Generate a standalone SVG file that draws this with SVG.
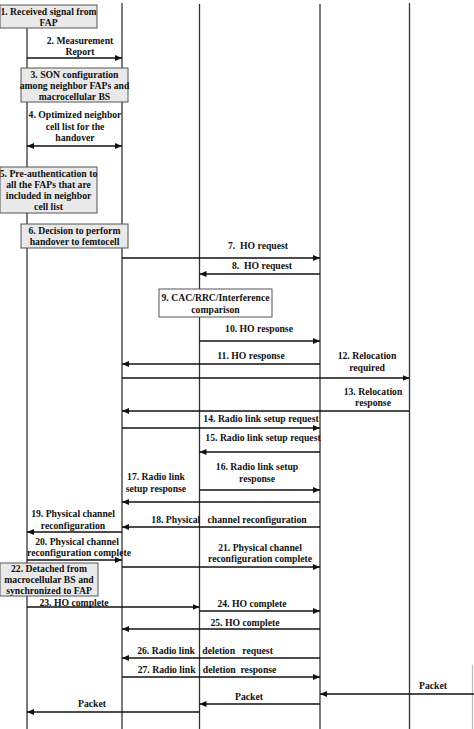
<svg xmlns="http://www.w3.org/2000/svg" width="474" height="729" viewBox="0 0 474 729">
<style>
.ll{stroke:#333;stroke-width:1.3;fill:none}
.m{stroke:#111;stroke-width:1.3;fill:none;marker-end:url(#ah)}
.d{marker-start:url(#ah)}
.box{fill:#e9e9e9;stroke:#555;stroke-width:1}
.wbox{fill:#fff;stroke:#555;stroke-width:1}
text{font-family:"Liberation Serif","Times New Roman",serif;font-weight:bold;font-size:9.7px;fill:#111;text-anchor:middle}
</style>
<defs>
<marker id="ah" markerUnits="userSpaceOnUse" markerWidth="7" markerHeight="6" refX="7" refY="3" orient="auto-start-reverse">
<path d="M0,0 L7,3 L0,6 z" fill="#111"/>
</marker>
</defs>
<rect width="474" height="729" fill="#fff"/>
<g id="lifelines">
<line class="ll" x1="27" y1="28" x2="27" y2="729"/>
<line class="ll" x1="122" y1="3" x2="122" y2="729"/>
<line class="ll" x1="199.5" y1="4" x2="199.5" y2="729"/>
<line class="ll" x1="320" y1="4" x2="320" y2="729"/>
<line class="ll" x1="409.5" y1="3" x2="409.5" y2="729"/>
<line x1="472.5" y1="665" x2="472.5" y2="729" stroke="#bbb" stroke-width="1.2"/>
</g>
<g id="connectors">
<line class="m" x1="27" y1="58" x2="122" y2="58"/>
<line class="m d" x1="27" y1="146" x2="122" y2="146"/>
<line class="m" x1="122" y1="258" x2="320" y2="258"/>
<line class="m" x1="320" y1="274" x2="199.5" y2="274"/>
<line class="m" x1="199.5" y1="341" x2="320" y2="341"/>
<line class="m" x1="320" y1="364" x2="122" y2="364"/>
<line class="m" x1="122" y1="378" x2="409.5" y2="378"/>
<line class="m" x1="409.5" y1="411" x2="122" y2="411"/>
<line class="m" x1="122" y1="428" x2="320" y2="428"/>
<line class="m" x1="320" y1="452" x2="199.5" y2="452"/>
<line class="m" x1="199.5" y1="490" x2="320" y2="490"/>
<line class="m" x1="320" y1="502" x2="122" y2="502"/>
<line class="m" x1="320" y1="527" x2="122" y2="527"/>
<line class="m" x1="122" y1="532" x2="27" y2="532"/>
<line class="m" x1="27" y1="560" x2="122" y2="560"/>
<line class="m" x1="122" y1="567" x2="320" y2="567"/>
<line class="m" x1="27" y1="607" x2="199.5" y2="607"/>
<line class="m" x1="199.5" y1="611" x2="320" y2="611"/>
<line class="m" x1="320" y1="629" x2="122" y2="629"/>
<line class="m" x1="320" y1="658" x2="122" y2="658"/>
<line class="m" x1="122" y1="677" x2="320" y2="677"/>
<line class="m" x1="474" y1="694" x2="320" y2="694"/>
<line class="m" x1="320" y1="704" x2="199.5" y2="704"/>
<line class="m" x1="199.5" y1="712" x2="27" y2="712"/>
</g>
<g id="labels">
<text x="80" y="44">2. Measurement</text>
<text x="80" y="55">Report</text>
<text x="75" y="118">4. Optimized neighbor</text>
<text x="75" y="130">cell list for the</text>
<text x="75" y="141">handover</text>
<text x="258" y="249" xml:space="preserve">7.  HO request</text>
<text x="262" y="269" xml:space="preserve">8.  HO request</text>
<text x="259" y="332">10. HO response</text>
<text x="251" y="359">11. HO response</text>
<text x="367" y="359">12. Relocation</text>
<text x="367" y="371">required</text>
<text x="373" y="395">13. Relocation</text>
<text x="373" y="406">response</text>
<text x="261" y="422">14. Radio link setup request</text>
<text x="263" y="441">15. Radio link setup request</text>
<text x="257" y="470">16. Radio link setup</text>
<text x="257" y="482">response</text>
<text x="156" y="480">17. Radio link</text>
<text x="156" y="492">setup response</text>
<text x="229" y="523" xml:space="preserve">18. Physical   channel reconfiguration</text>
<text x="73" y="517">19. Physical channel</text>
<text x="73" y="529">reconfiguration</text>
<text x="77" y="545">20. Physical channel</text>
<text x="79" y="556">reconfiguration complete</text>
<text x="260" y="551">21. Physical channel</text>
<text x="260" y="562">reconfiguration complete</text>
<text x="74" y="606">23. HO complete</text>
<text x="252" y="607">24. HO complete</text>
<text x="245" y="626">25. HO complete</text>
<text x="205" y="654" xml:space="preserve">26. Radio link   deletion   request</text>
<text x="207" y="673" xml:space="preserve">27. Radio link   deletion  response</text>
<text x="433" y="689">Packet</text>
<text x="249" y="700">Packet</text>
<text x="92" y="707">Packet</text>
</g>
<g id="n1">
<rect class="box" x="0" y="5" width="97" height="23"/>
<text x="48.5" y="15">1. Received signal from</text>
<text x="48.5" y="26">FAP</text>
</g>
<g id="n3">
<rect class="box" x="21" y="68" width="107" height="34"/>
<text x="74.5" y="78">3. SON configuration</text>
<text x="74.5" y="89">among neighbor FAPs and</text>
<text x="74.5" y="100">macrocellular BS</text>
</g>
<g id="n5">
<rect class="box" x="0" y="167" width="97" height="46"/>
<text x="48.5" y="177">5. Pre-authentication to</text>
<text x="48.5" y="188">all the FAPs that are</text>
<text x="48.5" y="199">included in neighbor</text>
<text x="48.5" y="210">cell list</text>
</g>
<g id="n6">
<rect class="box" x="21" y="224" width="107" height="24"/>
<text x="74.5" y="234">6. Decision to perform</text>
<text x="74.5" y="245">handover to femtocell</text>
</g>
<g id="n9">
<rect class="wbox" x="159" y="289" width="113" height="28"/>
<text x="215.5" y="301">9. CAC/RRC/Interference</text>
<text x="215.5" y="313">comparison</text>
</g>
<g id="n22">
<rect class="box" x="0" y="563" width="98" height="33"/>
<text x="49" y="572">22. Detached from</text>
<text x="49" y="583">macrocellular BS and</text>
<text x="49" y="594">synchronized to FAP</text>
</g>
</svg>
